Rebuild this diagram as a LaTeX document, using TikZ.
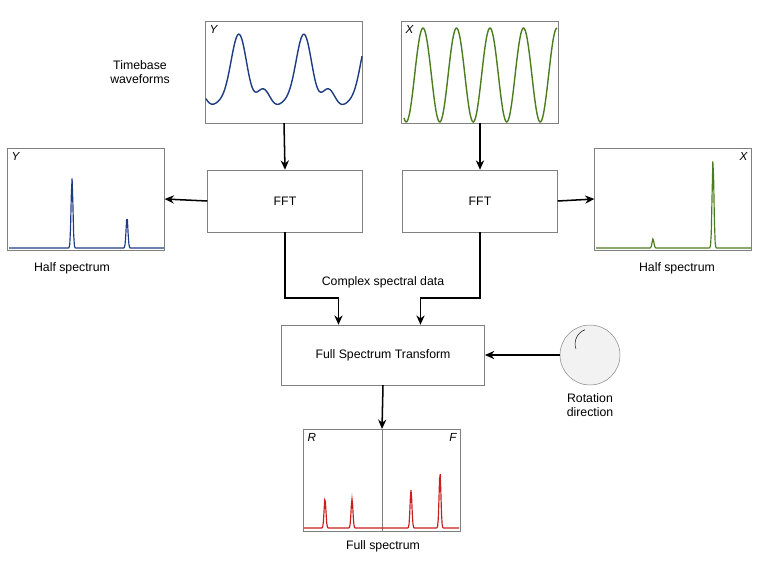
\documentclass[tikz,border=0pt]{standalone}
\usepackage{fontspec}
\setmainfont{Liberation Sans}
\usetikzlibrary{arrows.meta}
\definecolor{wblue}{RGB}{30,60,130}
\definecolor{wgreen}{RGB}{75,125,30}
\definecolor{wred}{RGB}{200,30,30}
\tikzset{declare function={pk(\c,\t)=exp(-min(((\t-\c)/1.3)^2,40));}}
\begin{document}
\begin{tikzpicture}[x=0.03cm, y=-0.03cm, font=\fontsize{10.5}{12.5}\selectfont,
    box/.style={draw, gray, text=black, minimum width=4.65cm, minimum height=1.86cm},
    scr/.style={draw, gray, minimum width=4.7cm, minimum height=3.05cm},
    link/.style={line width=1.3pt, -{Stealth[length=8pt, width=7pt]}},
    wave/.style={line width=1.2pt, smooth}
  ]
  \useasboundingbox (0,0) rectangle (771,575);

  % waveform screens
  \node[scr] (ywave) at (284,72) {};
  \node[scr] (xwave) at (480,72) {};
  \node[anchor=north west, font=\itshape] at (ywave.north west) {Y};
  \node[anchor=north west, font=\itshape] at (xwave.north west) {X};
  \draw[wave, wblue] plot[domain=206:362, samples=150]
    (\x, {80 - 28*cos((\x-240)*5.5385) - 14*cos((\x-240)*11.077 + 30) - 5*cos((\x-240)*16.6)});
  \draw[wave, wgreen] plot[domain=404:557, samples=180]
    (\x, {75 - 47*cos((\x-423)*10.746)});
  \node[align=center] (tb) at (140,72) {Timebase\\waveforms};

  % FFT blocks
  \node[box] (ffty) at (285,201) {FFT};
  \node[box] (fftx) at (480,201) {FFT};

  % half spectra
  \node[scr] (yspec) at (86,199) {};
  \node[scr] (xspec) at (673,199) {};
  \node[anchor=north west, font=\itshape] at (yspec.north west) {Y};
  \node[anchor=north east, font=\itshape] at (xspec.north east) {X};
  \draw[wblue, line width=1pt] plot[domain=9:164, samples=200]
    (\x, {248 - 70*pk(72,\x) - 31*pk(127,\x)});
  \draw[wgreen, line width=1pt] plot[domain=596:751, samples=200]
    (\x, {248 - 9*pk(653,\x) - 88*pk(713,\x)});
  \node (yhalf) at (72,268) {Half spectrum};
  \node (xhalf) at (677,268) {Half spectrum};

  % transform
  \node[box, minimum width=6.1cm, minimum height=1.8cm] (fst) at (383,355) {Full Spectrum Transform};
  \node[draw, gray, circle, minimum size=1.8cm, fill=gray!10] (rot) at (590,355) {};
  \draw[thin] ([shift={(-14,-6)}]rot.center) arc[start angle=200, end angle=110, radius=0.45cm];
  \node[align=center] (rotlbl) at (590,405) {Rotation\\direction};
  \node (csd) at (383,282) {Complex spectral data};

  % full spectrum
  \node[scr] (full) at (382,480) {};
  \draw[gray] (full.north) -- (full.south);
  \node[anchor=north west, font=\itshape] at (full.north west) {R};
  \node[anchor=north east, font=\itshape] at (full.north east) {F};
  \draw[wred, line width=1pt] plot[domain=304:459, samples=240]
    (\x, {528 - 29*pk(325,\x) - 29*pk(352,\x) - 38*pk(411,\x) - 55*pk(440,\x)});
  \node (fulllbl) at (383,546) {Full spectrum};

  % connectors
  \draw[link] (ywave.south) -- (ffty.north);
  \draw[link] (xwave.south) -- (fftx.north);
  \draw[link] (ffty.west) -- (yspec.east);
  \draw[link] (fftx.east) -- (xspec.west);
  \draw[link] (ffty.south) -- ++(0,66) -| ([xshift=-38]fst.north);
  \draw[link] (fftx.south) -- ++(0,66) -| ([xshift=32]fst.north);
  \draw[link] (rot.west) -- (fst.east);
  \draw[link] (fst.south) -- (full.north);
\end{tikzpicture}
\end{document}
